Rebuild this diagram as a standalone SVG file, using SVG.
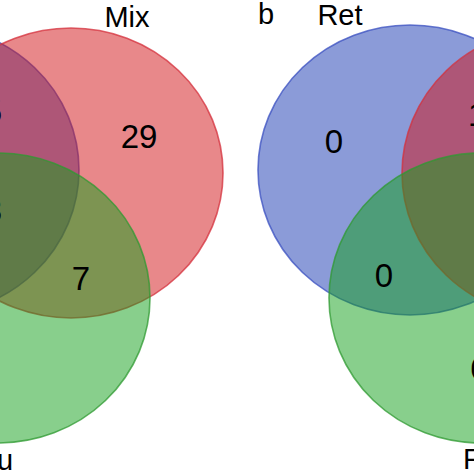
<svg xmlns="http://www.w3.org/2000/svg" width="474" height="474" viewBox="0 0 474 474">
  <style>
    .set { stroke-width: 1.6; }
    .red { fill: #d11115; fill-opacity: 0.5; stroke: #d4303c; stroke-opacity: 0.75; }
    .blue { fill: #1737b1; fill-opacity: 0.5; stroke: #3a4fc0; stroke-opacity: 0.75; }
    .green { fill: #119f19; fill-opacity: 0.5; stroke: #2f9a32; stroke-opacity: 0.75; }
    .lbl { font-family: "Liberation Sans", Arial, sans-serif; font-size: 29px; fill: #000; }
    .num { font-family: "Liberation Sans", Arial, sans-serif; font-size: 33px; fill: #000; }
  </style>
  <rect width="474" height="474" fill="#ffffff"/>

  <g id="panel-a">
    <g id="a-set-blue"><ellipse class="set blue" cx="-73" cy="170" rx="152" ry="145"/></g>
    <g id="a-set-mix"><ellipse class="set red" cx="71" cy="173" rx="152" ry="145"/></g>
    <g id="a-set-green"><ellipse class="set green" cx="-2" cy="298" rx="152" ry="145"/></g>
    <g id="a-labels">
      <text class="lbl" x="127" y="27" text-anchor="middle">Mix</text>
      <text class="lbl" x="-3" y="470">u</text>
      <text class="num" x="139" y="148" text-anchor="middle">29</text>
      <text class="num" x="81" y="290" text-anchor="middle">7</text>
      <text class="num" x="2" y="123" text-anchor="end">5</text>
      <text class="num" x="2" y="222" text-anchor="end">3</text>
    </g>
  </g>

  <g id="panel-b">
    <g id="b-set-ret"><ellipse class="set blue" cx="410" cy="170" rx="152" ry="145"/></g>
    <g id="b-set-red"><ellipse class="set red" cx="554" cy="173" rx="152" ry="145"/></g>
    <g id="b-set-green"><ellipse class="set green" cx="481" cy="298" rx="152" ry="145"/></g>
    <g id="b-labels">
      <text class="lbl" x="258" y="24">b</text>
      <text class="lbl" x="340" y="25" text-anchor="middle">Ret</text>
      <text class="lbl" x="463" y="469">F</text>
      <text class="num" x="334" y="153" text-anchor="middle">0</text>
      <text class="num" x="384" y="287" text-anchor="middle">0</text>
      <text class="num" x="468" y="126">1</text>
      <text class="num" x="470" y="380">6</text>
    </g>
  </g>

  <g id="connectors"/>
</svg>
